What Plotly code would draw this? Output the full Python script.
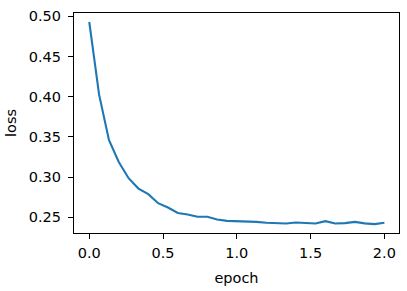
import plotly.graph_objects as go

epoch = [i * 2 / 30 for i in range(31)]
loss = [0.493, 0.4025, 0.3461, 0.3187, 0.2985, 0.2856, 0.2787, 0.2674, 0.2621, 0.2553,
        0.2533, 0.2505, 0.2505, 0.2470, 0.2454, 0.2452, 0.2452, 0.2442, 0.2430, 0.2423,
        0.2421, 0.2433, 0.2426, 0.2421, 0.2450, 0.2421, 0.2426, 0.2441, 0.2423, 0.2414,
        0.2430]
x_ticks = [0.0, 0.5, 1.0, 1.5, 2.0]
y_ticks = [0.25, 0.30, 0.35, 0.40, 0.45, 0.50]

fig = go.Figure()
fig.add_trace(go.Scatter(x=epoch, y=loss, mode="lines",
                         line=dict(color="#1f77b4", width=2.1)))

font = dict(family="DejaVu Sans", size=14.5, color="black")
axis_common = dict(showline=True, linecolor="black", linewidth=1.1, mirror=True,
                   ticks="outside", ticklen=5, tickwidth=1.1, tickcolor="black",
                   showgrid=False, zeroline=False, tickfont=font)

fig.update_layout(
    width=407, height=291,
    margin=dict(l=74, r=7, t=13, b=52),
    paper_bgcolor="white", plot_bgcolor="white",
    showlegend=False,
    font=font,
    xaxis=dict(range=[-0.1034, 2.099], tickvals=x_ticks,
               ticktext=[f"{v:.1f}" for v in x_ticks], ticklabelstandoff=2,
               title=dict(text="epoch", font=font, standoff=12), **axis_common),
    yaxis=dict(range=[0.2303, 0.5042], tickvals=y_ticks,
               ticktext=[f"{v:.2f}" for v in y_ticks], ticklabelstandoff=4,
               title=dict(text="loss", font=font, standoff=8), **axis_common),
)
fig.write_html("out.html")
